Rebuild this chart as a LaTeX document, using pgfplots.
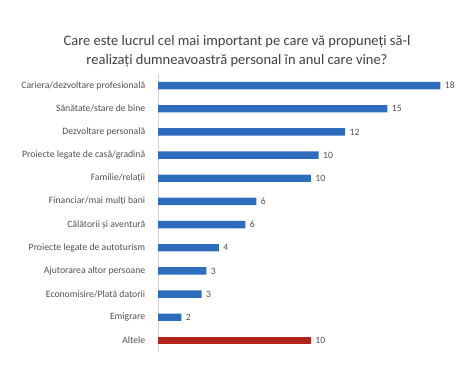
\documentclass[border=0pt]{standalone}
\usepackage{fontspec}
\setmainfont{Carlito}
\usepackage{pgfplots}
\pgfplotsset{compat=1.18}
\usepackage{pgfplotstable}
\definecolor{barblue}{HTML}{2E6CBD}
\definecolor{barred}{HTML}{B0241C}
\definecolor{txt}{HTML}{505050}
\definecolor{ttl}{HTML}{404040}
\pgfplotstableread{
i v lab
0 18.1 18
1 14.7 15
2 12.0 12
3 10.3 10
4 9.8 10
5 6.3 6
6 5.6 6
7 3.9 4
8 3.1 3
9 2.8 3
10 1.5 2
}\blue
\pgfplotstableread{
i v lab
11 9.8 10
}\red
\begin{document}
\begin{tikzpicture}[x=1pt,y=1pt]
\path[use as bounding box] (0,0) rectangle (474,380);
\node[font=\fontsize{14.5}{19}\selectfont, text=ttl, align=center] at (237,329) {Care este lucrul cel mai important pe care vă propuneți să-l\\realizați dumneavoastră personal în anul care vine?};
\begin{axis}[
  at={(158pt,28pt)}, anchor=south west,
  scale only axis, width=312pt, height=278pt,
  xbar, bar width=7.4pt, bar shift=0pt,
  xmin=0, xmax=20, ymin=-0.5, ymax=11.5,
  y dir=reverse,
  axis x line=none, axis y line*=left,
  y axis line style={draw=gray!35, line width=0.6pt, -},
  ytick={0,...,11}, ytick style={draw=none},
  yticklabels={Cariera/dezvoltare profesională, Sănătate/stare de bine, Dezvoltare personală, Proiecte legate de casă/gradină, Familie/relații, Financiar/mai mulți bani, Călătorii și aventură, Proiecte legate de autoturism, Ajutorarea altor persoane, Economisire/Plată datorii, Emigrare, Altele},
  yticklabel style={font=\fontsize{9.7}{11}\selectfont, text=txt, xshift=-5pt},
  point meta=explicit symbolic,
  nodes near coords,
  nodes near coords style={font=\fontsize{9.7}{11}\selectfont, text=txt, anchor=west, xshift=1pt},
  clip=false,
]
\addplot[fill=barblue, draw=none] table[x=v, y=i, meta=lab] {\blue};
\addplot[fill=barred, draw=none] table[x=v, y=i, meta=lab] {\red};
\end{axis}
\end{tikzpicture}
\end{document}
